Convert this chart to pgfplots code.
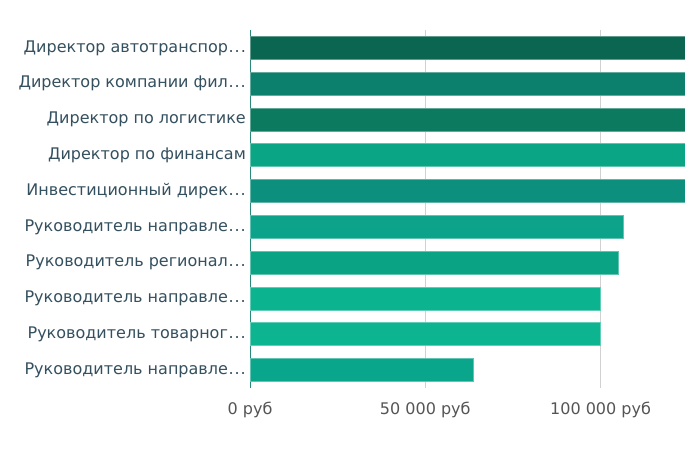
\documentclass[border=0pt]{standalone}
\usepackage{pgfplots}
\pgfplotsset{compat=1.18}
\usepackage{fontspec}
\setmainfont{DejaVu Sans}

\definecolor{lbl}{HTML}{34505F}
\definecolor{tck}{HTML}{555555}
\definecolor{axl}{HTML}{2A8A7A}
\definecolor{cA}{RGB}{10,102,80}
\definecolor{cB}{RGB}{12,128,108}
\definecolor{cC}{RGB}{11,122,95}
\definecolor{cD}{RGB}{10,165,132}
\definecolor{cE}{RGB}{12,143,125}
\definecolor{cF}{RGB}{12,163,138}
\definecolor{cG}{RGB}{10,164,133}
\definecolor{cH}{RGB}{11,179,143}
\definecolor{cI}{RGB}{13,180,144}
\definecolor{cJ}{RGB}{10,166,139}
% truncated-label dots, a bit wider than the ellipsis glyph
\newcommand\dd{\kern0.6pt.\kern1pt.\kern1pt.}

\begin{document}
\begin{tikzpicture}[x=1pt,y=1pt]
\useasboundingbox[fill=white] (0,0) rectangle (685,448);
\begin{axis}[
    at={(250pt,60pt)}, anchor=south west,
    scale only axis, width=435pt, height=358pt,
    xmin=0, xmax=124100,
    ymin=-0.5, ymax=9.5, y dir=reverse,
    xbar,
    every axis plot/.append style={bar shift=0pt, bar width=23pt, line width=0.8pt},
    separate axis lines,
    axis lines*=left,
    x axis line style={draw=none},
    y axis line style={draw=axl, line width=0.8pt},
    xmajorgrids, grid style={draw=black!18, line width=0.6pt},
    major tick length=0pt,
    scaled x ticks=false,
    xtick={0,50000,100000},
    xticklabels={0 руб, 50 000 руб, 100 000 руб},
    ytick={0,...,9},
    yticklabels={Директор автотранспор\dd, Директор компании фил\dd, Директор по логистике, Директор по финансам, Инвестиционный дирек\dd, Руководитель направле\dd, Руководитель регионал\dd, Руководитель направле\dd, Руководитель товарног\dd, Руководитель направле\dd},
    tick label style={font=\fontsize{16}{19}\selectfont},
    yticklabel style={text=lbl, anchor=east, inner sep=0pt, xshift=-4pt},
    xticklabel style={text=tck, anchor=base, inner sep=0pt, yshift=-26pt},
]
\addplot[fill=cA, draw=cA!65!white] coordinates {(200000,0)};
\addplot[fill=cB, draw=cB!65!white] coordinates {(180000,1)};
\addplot[fill=cC, draw=cC!65!white] coordinates {(170000,2)};
\addplot[fill=cD, draw=cD!65!white] coordinates {(150000,3)};
\addplot[fill=cE, draw=cE!65!white] coordinates {(130000,4)};
\addplot[fill=cF, draw=cF!65!white] coordinates {(106500,5)};
\addplot[fill=cG, draw=cG!65!white] coordinates {(105000,6)};
\addplot[fill=cH, draw=cH!65!white] coordinates {(100000,7)};
\addplot[fill=cI, draw=cI!65!white] coordinates {(100000,8)};
\addplot[fill=cJ, draw=cJ!65!white] coordinates {(63600,9)};
\end{axis}
\end{tikzpicture}
\end{document}
